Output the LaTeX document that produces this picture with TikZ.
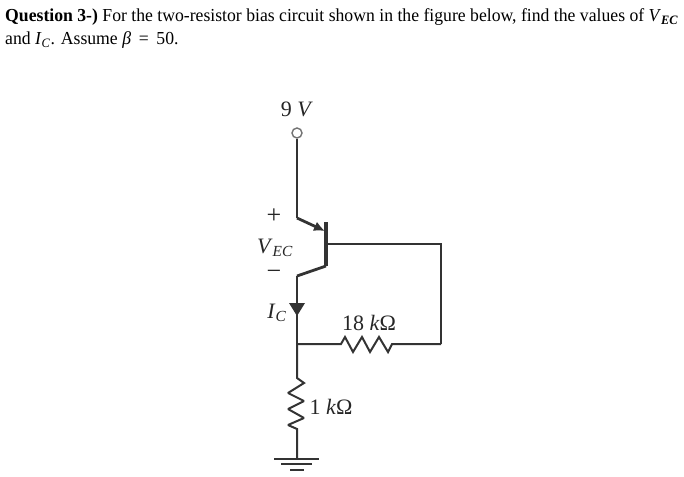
\documentclass[tikz,border=0pt]{standalone}
\usepackage{fontspec}
\setmainfont{Liberation Serif}
\usetikzlibrary{arrows.meta, positioning, calc}
\tikzset{
  wire/.style={line width=2pt, draw=black!80},
  lead/.style={line width=2.8pt, draw=black!80},
  qtext/.style={anchor=west, inner sep=0pt, font=\fontsize{18.3}{21}\selectfont},
  label/.style={inner sep=0pt, text=black!85, font=\fontsize{22}{25}\selectfont},
  sign/.style={inner sep=0pt, text=black!85, font=\fontsize{26}{28}\selectfont},
}
\begin{document}
\begin{tikzpicture}[x=1pt, y=-1pt]
\useasboundingbox (0,0) rectangle (684,476);
% Question text
\node[qtext, xscale=0.966] (line1) at (5,17) {\textbf{Question 3-)} For the two-resistor bias circuit shown in the figure below, find the values of \textit{V}\textsubscript{\textit{\textbf{EC}}}};
\node[qtext, xscale=0.966] (line2) at (5,40) {and \textit{I}\textsubscript{\textit{C}}. Assume \textit{β}\hspace{8pt}=\hspace{8pt}50.};
% Points of the circuit
\node[circle, draw=black!55, line width=1.4pt, fill=white, minimum size=10pt, inner sep=0pt] (supply) at (297,133) {};
\coordinate (emitter) at (297,218);
\coordinate (emitterEnd) at (325,231);
\coordinate (barTop) at (326,222);
\coordinate (barBot) at (326,266);
\coordinate (base) at (326,244);
\coordinate (corner1) at (441,244);
\coordinate (corner2) at (441,344);
\coordinate (collector) at (297,276);
\coordinate (junction) at (297,344);
\coordinate (groundTop) at (297,459);
% Supply and transistor
\draw[wire] (supply) -- (emitter);
\draw[lead, -{Latex[length=11pt,width=10pt]}] (emitter) -- (emitterEnd);
\draw[line width=3.4pt, draw=black!80] (barTop) -- (barBot);
\draw[wire] (base) -- (corner1) -- (corner2);
\draw[lead] (barBot) -- (collector);
\draw[wire] (collector) -- (junction);
% Collector current arrow
\fill[black!80] (289,303) -- (305,303) -- (297,316) -- cycle;
% 18k resistor
\draw[wire] (corner2) -- (392,344) -- (388,352) -- (379,337) -- (370,352) -- (362,337) -- (353,352) -- (345,337) -- (341,344) -- (junction);
% 1k resistor
\draw[wire, miter limit=2] (junction) -- (297,378) -- (304,383) -- (288,393) -- (304,401) -- (288,409) -- (304,418) -- (288,425) -- (297,429) -- (groundTop);
% Ground
\draw[wire] (274,459) -- (319,459);
\draw[wire] (281,464) -- (312,464);
\draw[line width=2.2pt, draw=black!80] (290,470) -- (304,470);
% Labels
\node[label] (vcc) at (297,109) {9 \textit{V}};
\node[sign] (plus) at (274,216) {+};
\node[label] (vec) at (275,248) {\textit{V}\textsubscript{\textit{EC}}};
\node[sign] (minus) at (274,275) {\textminus};
\node[label] (ic) at (277,313) {\textit{I}\textsubscript{\textit{C}}};
\node[label] (rf) at (369,323) {18 \textit{k}Ω};
\node[label] (re) at (331,407) {1 \textit{k}Ω};
\end{tikzpicture}
\end{document}
